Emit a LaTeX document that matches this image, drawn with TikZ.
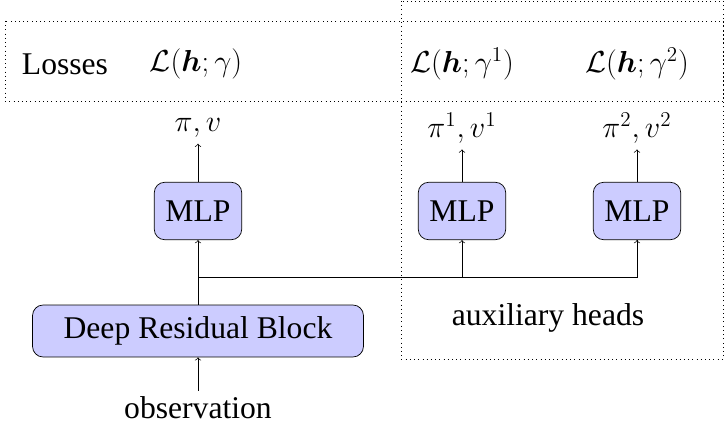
\documentclass[tikz,border=0pt]{standalone}
\usepackage{fontspec}
\setmainfont{Liberation Serif}
\usepackage{amsmath,bm}
\usetikzlibrary{positioning}
\begin{document}
\begin{tikzpicture}[x=0.02cm,y=-0.02cm,
    box/.style={draw, fill=blue!20, rounded corners=6pt, minimum height=1.15cm},
    lbl/.style={font=\fontsize{18}{20}\selectfont}]
  \useasboundingbox (0,0) rectangle (728,432);
  \tikzset{every node/.style={lbl}}
  % loss boxes
  \draw [dotted] (5,21) rectangle (723,101);
  \draw [dotted] (401,1) rectangle (723,359);
  \node (loss) at (65,64) {Losses};
  \node (l0) at (196,64) {$\mathcal{L}(\bm{h};\gamma)$};
  \node (l1) at (462,64) {$\mathcal{L}(\bm{h};\gamma^1)$};
  \node (l2) at (637,64) {$\mathcal{L}(\bm{h};\gamma^2)$};
  % outputs
  \node (o0) at (198,128) {$\pi, v$};
  \node (o1) at (462,128) {$\pi^1, v^1$};
  \node (o2) at (637,128) {$\pi^2, v^2$};
  % heads
  \node [box, minimum width=1.75cm] (m0) at (198,211) {MLP};
  \node [box, minimum width=1.75cm] (m1) at (462,211) {MLP};
  \node [box, minimum width=1.75cm] (m2) at (637,211) {MLP};
  \node [box, minimum width=6.62cm, minimum height=1.04cm] (drb) at (198,331) {Deep Residual Block};
  \node (obs) at (198,408) {observation};
  \node (aux) at (548,318) {auxiliary heads};
  \coordinate (split) at (198,277);
  % connectors
  \draw [->] (obs) -- (drb);
  \draw [->] (drb) -- (m0);
  \draw (split) -| (m2.south);
  \draw [->] (split -| m1.south) -- (m1);
  \draw [->] (split -| m2.south) -- (m2);
  \draw [->] (m0) -- (o0);
  \draw [->] (m1) -- (o1);
  \draw [->] (m2) -- (o2);
\end{tikzpicture}
\end{document}
